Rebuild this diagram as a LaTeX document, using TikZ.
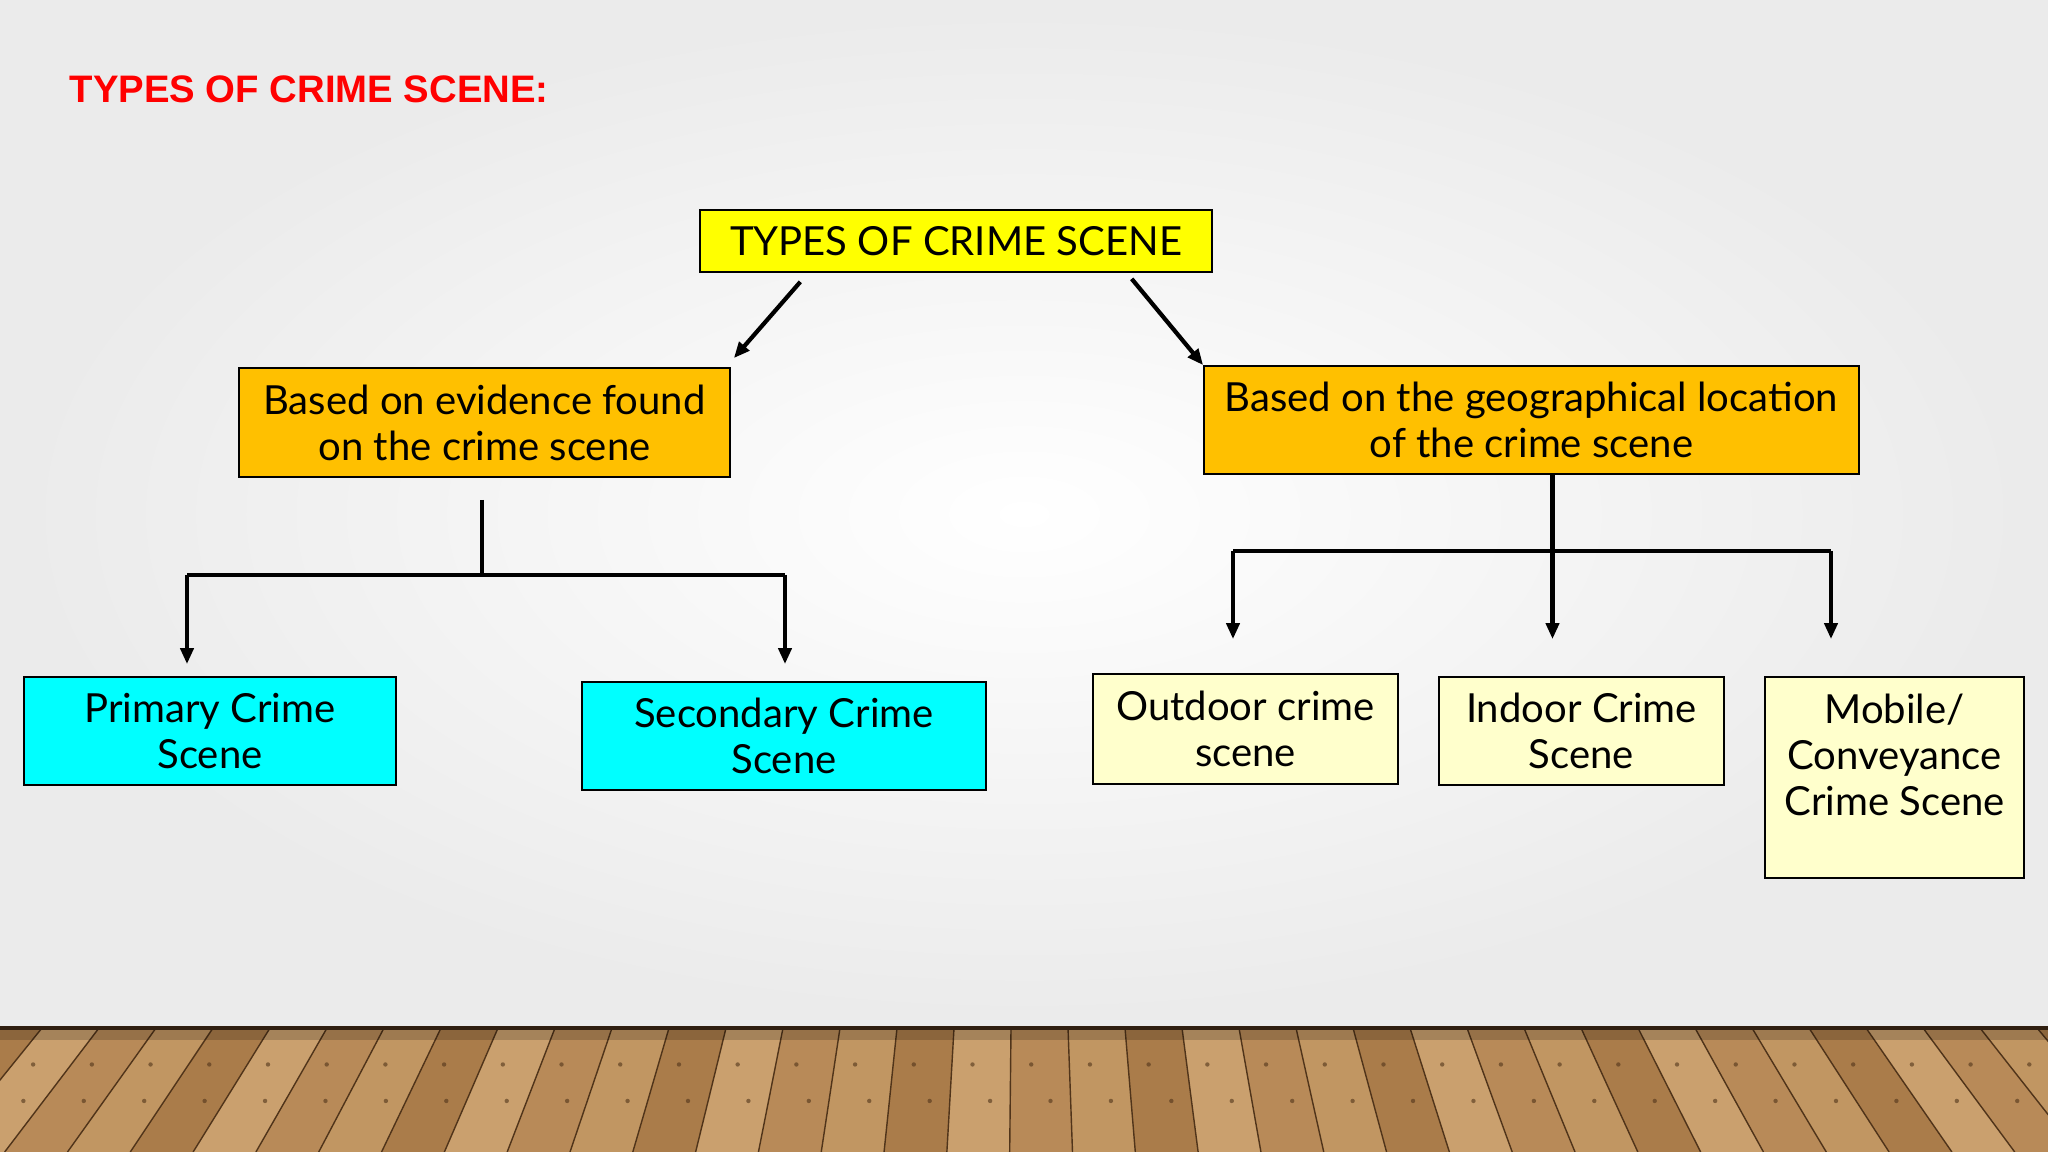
\documentclass[tikz,border=0pt]{standalone}
\usepackage{fontspec}
\setmainfont{Lato}
\newfontfamily\headfont{Liberation Sans}
\usetikzlibrary{arrows.meta,calc}
\definecolor{headred}{RGB}{255,0,0}
\definecolor{topyellow}{RGB}{255,255,0}
\definecolor{basisorange}{RGB}{255,192,0}
\definecolor{evidcyan}{RGB}{0,255,255}
\definecolor{geopale}{RGB}{255,255,204}
\definecolor{wood0}{RGB}{184,138,88}
\definecolor{wood1}{RGB}{202,160,110}
\definecolor{wood2}{RGB}{170,124,74}
\definecolor{wood3}{RGB}{193,150,98}
\definecolor{seam}{RGB}{80,52,26}
\tikzset{
	box/.style={draw=black, line width=0.5pt, align=center, inner sep=0pt, font=\fontsize{11.4}{13.1}\selectfont},
	conn/.style={line width=1.2pt},
	arr/.style={conn, -{Triangle[length=1.6mm,width=1.3mm]}},
}

\begin{document}
\begin{tikzpicture}
			%%%%% START %%%%%
			\useasboundingbox (0,0) rectangle (20.48,11.52);
			\shade[inner color=white, outer color=black!8] (0,1.24) rectangle (20.48,11.52);
			
			% wooden floor
			\coordinate (vp) at (10.24,13.4);
			\fill[wood0] (0,0) rectangle (20.48,1.24);
			\foreach \x [count=\i] in {-3.0,-2.43,...,23.6} {
				\pgfmathtruncatemacro\k{mod(\i*3,4)}
				\fill[wood\k] (\x,1.24) -- (\x+0.57,1.24) -- ($(vp)!1.102!(\x+0.57,1.24)$) -- ($(vp)!1.102!(\x,1.24)$) -- cycle;
				\draw[seam, line width=0.4pt] (\x,1.24) -- ($(vp)!1.102!(\x,1.24)$);
				\fill[seam, opacity=0.6] ($(vp)!1.03!(\x+0.2,1.24)$) circle (0.022);
				\fill[seam, opacity=0.6] ($(vp)!1.06!(\x+0.38,1.24)$) circle (0.022);
			}
			\fill[black, opacity=0.18] (0,1.12) rectangle (20.48,1.24);
			\draw[seam!60!black, line width=1pt] (0,1.24) -- (20.48,1.24);
			
			\node[anchor=west, inner sep=0pt, text=headred, font=\headfont\bfseries\fontsize{10.9}{13}\selectfont] (heading) at (0.69,10.63) {TYPES OF CRIME SCENE:};
			
			\node[box, fill=topyellow, minimum width=5.12cm, minimum height=0.62cm] (types) at (9.56,9.11) {TYPES OF CRIME SCENE};
			
			\node[box, fill=basisorange, minimum width=4.91cm, minimum height=1.09cm] (evid) at (4.845,7.295) {Based on evidence found\\on the crime scene};
			\node[box, fill=basisorange, minimum width=6.55cm, minimum height=1.08cm] (geo) at (15.315,7.32) {Based on the geographical location\\of the crime scene};
			
			\node[box, fill=evidcyan, minimum width=3.72cm, minimum height=1.08cm] (prim) at (2.10,4.21) {Primary Crime\\Scene};
			\node[box, fill=evidcyan, minimum width=4.04cm, minimum height=1.08cm] (secd) at (7.84,4.16) {Secondary Crime\\Scene};
			
			\node[box, fill=geopale, minimum width=3.05cm, minimum height=1.10cm] (outd) at (12.455,4.23) {Outdoor crime\\scene};
			\node[box, fill=geopale, minimum width=2.85cm, minimum height=1.08cm] (indr) at (15.815,4.21) {Indoor Crime\\Scene};
			\node[box, fill=geopale, minimum width=2.59cm, minimum height=2.01cm] (mobl) at (18.945,3.745) {Mobile/\\Conveyance\\Crime Scene\\\mbox{}};
			
			% from the top box
			\draw[arr] ($(types.south west)!0.197!(types.south east)+(0,-0.09)$) -- ($(evid.north east)+(0.03,0.09)$);
			\draw[arr] ($(types.south west)!0.842!(types.south east)+(0,-0.06)$) -- (geo.north west);
			
			% evidence branch
			\coordinate (lbarL) at (1.87,5.77);
			\coordinate (lbarR) at (7.85,5.77);
			\coordinate (ltop) at ($(evid.south)+(-0.025,-0.22)$);
			\coordinate (lend) at ($(prim.north)+(0,0.12)$);
			\draw[conn] (ltop) -- (ltop |- lbarL);
			\draw[conn] (lbarL) -- (lbarR);
			\draw[arr] (lbarL) -- (lbarL |- lend);
			\draw[arr] (lbarR) -- (lbarR |- lend);
			
			% location branch
			\coordinate (rbarL) at (12.33,6.01);
			\coordinate (rbarR) at (18.31,6.01);
			\coordinate (rtop) at ($(geo.south)+(0.21,0)$);
			\coordinate (rend) at ($(indr.north)+(0,0.37)$);
			\draw[conn] (rbarL) -- (rbarR);
			\draw[arr] (rtop) -- (rtop |- rend);
			\draw[arr] (rbarL) -- (rbarL |- rend);
			\draw[arr] (rbarR) -- (rbarR |- rend);
			%%%%% END %%%%%
\end{tikzpicture}
\end{document}
